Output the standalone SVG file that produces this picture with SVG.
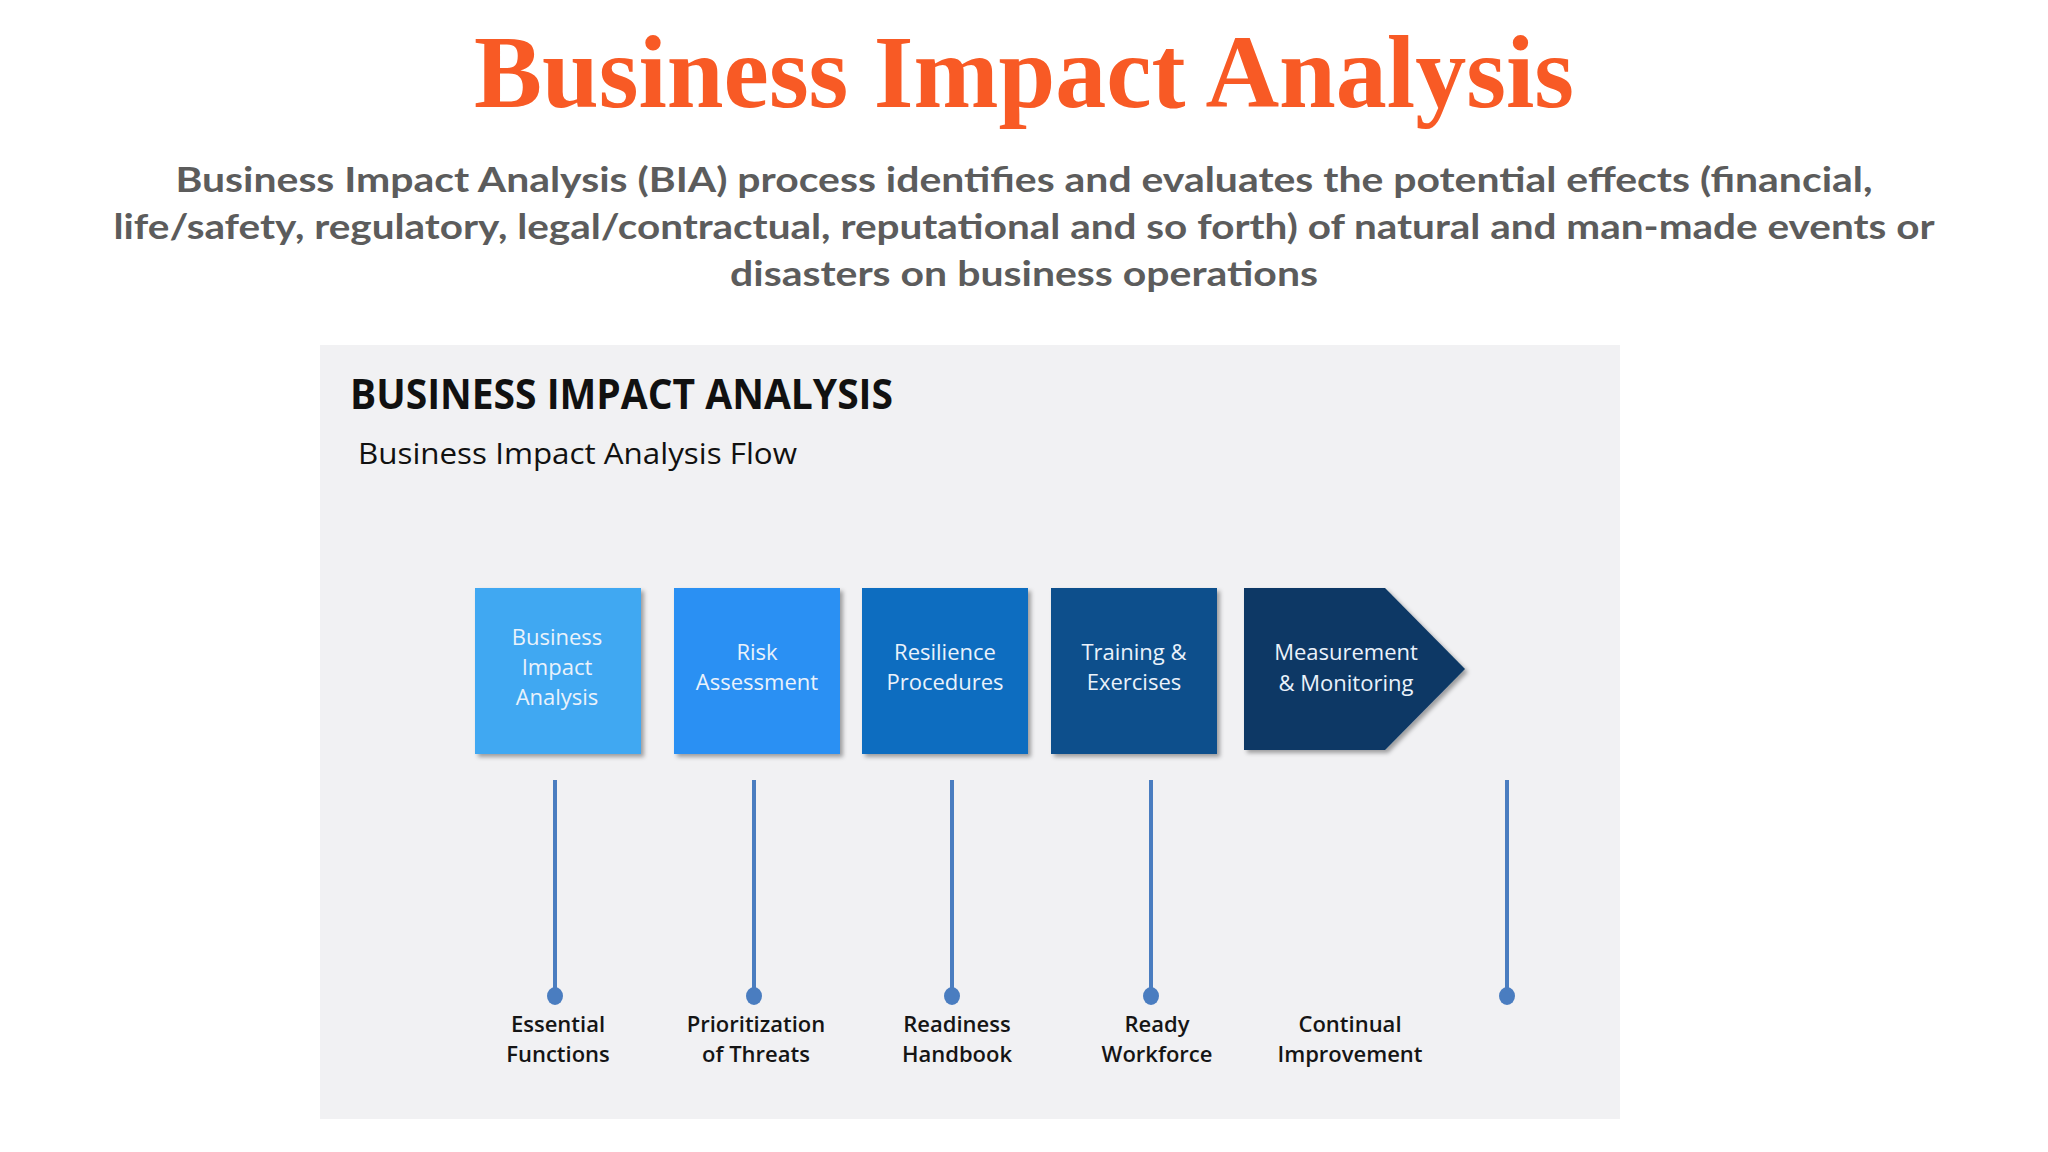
<svg xmlns="http://www.w3.org/2000/svg" width="2048" height="1152" viewBox="0 0 2048 1152">
<defs>
<style>
.title{font-family:"Liberation Serif","Times New Roman",serif;font-weight:bold;fill:#F85A25;}
.sub{font-family:Lato,"Liberation Sans",sans-serif;font-weight:bold;fill:#5C5C5C;font-size:35px;}
.head{font-family:"Open Sans","Liberation Sans",sans-serif;font-weight:bold;fill:#111;}
.flow{font-family:"Open Sans","Liberation Sans",sans-serif;fill:#111;}
.bt{font-family:"Open Sans","Liberation Sans",sans-serif;fill:#EAF2FB;font-size:22px;text-anchor:middle;}
.lb{font-family:"Open Sans","Liberation Sans",sans-serif;fill:#151515;font-size:22px;text-anchor:middle;font-weight:600;}
.stem{stroke:#4A7DC0;stroke-width:4;fill:none;}
.dot{fill:#4A7DC0;}
</style>
<filter id="sh" x="-10%" y="-10%" width="130%" height="130%">
<feDropShadow dx="3" dy="3" stdDeviation="2" flood-color="#000" flood-opacity="0.35"/>
</filter>
</defs>
<rect width="2048" height="1152" fill="#FFFFFF"/>
<text class="title" x="1024" y="107" font-size="104" text-anchor="middle" textLength="1100" lengthAdjust="spacingAndGlyphs">Business Impact Analysis</text>
<text class="sub" x="1024" y="192" text-anchor="middle" textLength="1697" lengthAdjust="spacingAndGlyphs">Business Impact Analysis (BIA) process identifies and evaluates the potential effects (financial,</text>
<text class="sub" x="1024" y="239" text-anchor="middle" textLength="1821" lengthAdjust="spacingAndGlyphs">life/safety, regulatory, legal/contractual, reputational and so forth) of natural and man-made events or</text>
<text class="sub" x="1024" y="286" text-anchor="middle" textLength="588" lengthAdjust="spacingAndGlyphs">disasters on business operations</text>

<rect x="320" y="345" width="1300" height="774" fill="#F1F1F3"/>
<text class="head" x="350" y="409" font-size="42" textLength="543" lengthAdjust="spacingAndGlyphs">BUSINESS IMPACT ANALYSIS</text>
<text class="flow" x="358" y="464" font-size="29" textLength="439" lengthAdjust="spacingAndGlyphs">Business Impact Analysis Flow</text>

<g id="node-bia">
<rect x="475" y="588" width="166" height="166" fill="#41A8F2" filter="url(#sh)"/>
<text class="bt" x="557" y="645">Business</text>
<text class="bt" x="557" y="675">Impact</text>
<text class="bt" x="557" y="705">Analysis</text>
</g>
<g id="node-risk">
<rect x="674" y="588" width="166" height="166" fill="#2B90F3" filter="url(#sh)"/>
<text class="bt" x="757" y="660">Risk</text>
<text class="bt" x="757" y="690">Assessment</text>
</g>
<g id="node-resilience">
<rect x="862" y="588" width="166" height="166" fill="#0B6DC0" filter="url(#sh)"/>
<text class="bt" x="945" y="660">Resilience</text>
<text class="bt" x="945" y="690">Procedures</text>
</g>
<g id="node-training">
<rect x="1051" y="588" width="166" height="166" fill="#0A4F8C" filter="url(#sh)"/>
<text class="bt" x="1134" y="660">Training &amp;</text>
<text class="bt" x="1134" y="690">Exercises</text>
</g>
<g id="node-measurement">
<path d="M1244 588 L1385 588 L1465 669 L1385 750 L1244 750 Z" fill="#093865" filter="url(#sh)"/>
<text class="bt" x="1346" y="660">Measurement</text>
<text class="bt" x="1346" y="691">&amp; Monitoring</text>
</g>

<g id="connectors">
<line class="stem" x1="555" y1="780" x2="555" y2="994"/>
<ellipse class="dot" cx="555" cy="996" rx="8" ry="9"/>
<line class="stem" x1="754" y1="780" x2="754" y2="994"/>
<ellipse class="dot" cx="754" cy="996" rx="8" ry="9"/>
<line class="stem" x1="952" y1="780" x2="952" y2="994"/>
<ellipse class="dot" cx="952" cy="996" rx="8" ry="9"/>
<line class="stem" x1="1151" y1="780" x2="1151" y2="994"/>
<ellipse class="dot" cx="1151" cy="996" rx="8" ry="9"/>
<line class="stem" x1="1507" y1="780" x2="1507" y2="994"/>
<ellipse class="dot" cx="1507" cy="996" rx="8" ry="9"/>
</g>

<g id="labels">
<text class="lb" x="558" y="1032">Essential</text>
<text class="lb" x="558" y="1062">Functions</text>
<text class="lb" x="756" y="1032">Prioritization</text>
<text class="lb" x="756" y="1062">of Threats</text>
<text class="lb" x="957" y="1032">Readiness</text>
<text class="lb" x="957" y="1062">Handbook</text>
<text class="lb" x="1157" y="1032">Ready</text>
<text class="lb" x="1157" y="1062">Workforce</text>
<text class="lb" x="1350" y="1032">Continual</text>
<text class="lb" x="1350" y="1062">Improvement</text>
</g>
</svg>
